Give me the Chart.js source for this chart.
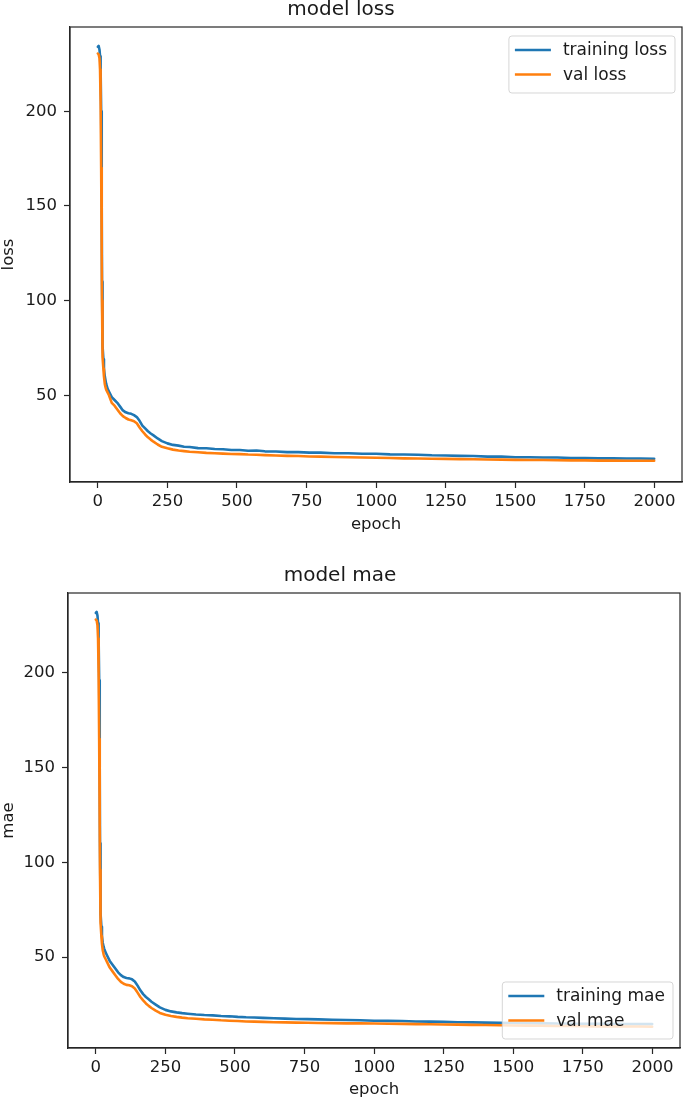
<!DOCTYPE html>
<html>
<head>
<meta charset="utf-8">
<script src="https://cdn.jsdelivr.net/npm/chart.js@4.4.1/dist/chart.umd.min.js"></script>
<style>
  html, body { margin: 0; padding: 0; background: #fff; }
  canvas { display: block; }
</style>
</head>
<body>
<canvas id="lossChart" width="685" height="551"></canvas>
<canvas id="maeChart" width="685" height="551"></canvas>
<script>
// Epochs (denser where the curve drops)
const epochs = [0, 3, 6, 8, 10, 12, 14, 15, 16, 18, 20, 22, 25, 28, 30, 35, 40,
  50, 60, 70, 80, 90, 100, 110, 120, 130, 140, 150, 160, 170, 180, 190, 200,
  215, 230, 250, 270, 290, 310, 330, 360, 390, 420, 450, 480, 510, 540, 570, 600, 640, 680, 720, 760, 800,
  850, 900, 950, 1000, 1050, 1100, 1150, 1200, 1250, 1300, 1350, 1400, 1450, 1500, 1550, 1600, 1650, 1700, 1750, 1800, 1850, 1900, 1950,
  1999];

// model loss
const trainLoss = [234, 234.5, 232.5, 229, 222, 200, 150, 110, 88, 76, 69, 64, 60, 57.5, 56, 53.5, 52,
  49, 47.5, 46, 44, 42, 41, 40.5, 40.2, 39.5, 38.5, 36.5, 34, 32.5, 31, 29.8, 28.8,
  27.2, 25.8, 24.6, 23.8, 23.4, 22.8, 22.7, 22.1, 22.0, 21.6, 21.5, 21.1, 21.1, 20.7, 20.8, 20.4, 20.3, 20.0, 20.0, 19.7, 19.7,
  19.4, 19.4, 19.1, 19.1, 18.8, 18.7, 18.6, 18.3, 18.2, 18.0, 17.9, 17.6, 17.6, 17.3, 17.3, 17.1, 17.1, 16.9, 16.9, 16.7, 16.7, 16.6, 16.6,
  16.5];
const valLoss = [230.5, 230, 228, 222, 205, 170, 125, 100, 82, 70, 64, 60, 56, 54, 53, 51.5, 50,
  46, 44.5, 42.5, 40.5, 39, 38, 37.2, 36.8, 36.3, 35.2, 33, 31, 29.3, 27.8, 26.6, 25.5,
  24, 22.8, 22, 21.3, 20.8, 20.5, 20.2, 19.9, 19.6, 19.4, 19.2, 19.0, 18.9, 18.7, 18.6, 18.4, 18.2, 18.0, 17.9, 17.7, 17.6,
  17.4, 17.3, 17.1, 17.0, 16.9, 16.7, 16.6, 16.5, 16.4, 16.3, 16.2, 16.1, 16.0, 15.9, 15.8, 15.8, 15.7, 15.6, 15.6, 15.5, 15.5, 15.4, 15.4,
  15.4];

// model mae
const trainMae = [231.5, 232, 230, 226, 218, 196, 150, 110, 86, 73, 66, 61, 57.5, 55.5, 54.5, 52.5, 51,
  48, 46, 44, 42, 40.5, 39.5, 39, 38.8, 38.3, 37.2, 35, 32.5, 30.5, 29, 27.8, 26.5,
  25, 23.5, 22.2, 21.4, 20.9, 20.5, 20.2, 19.8, 19.5, 19.3, 19.0, 18.8, 18.5, 18.3, 18.2, 18.0, 17.8, 17.6, 17.4, 17.3, 17.2,
  17.0, 16.9, 16.7, 16.5, 16.4, 16.3, 16.1, 16.0, 15.9, 15.7, 15.6, 15.5, 15.4, 15.3, 15.2, 15.1, 15.0, 14.9, 14.9, 14.8, 14.8, 14.7, 14.7,
  14.7];
const valMae = [228, 227.5, 225, 218, 200, 165, 120, 96, 80, 68, 61, 57, 53.5, 51.5, 50.5, 49, 47.5,
  44.5, 42.5, 40.5, 38.5, 37, 36, 35.4, 35.2, 34.7, 33.5, 31.3, 29, 27.2, 25.6, 24.3, 23.2,
  21.8, 20.6, 19.6, 19.0, 18.5, 18.1, 17.8, 17.5, 17.2, 17.0, 16.7, 16.5, 16.3, 16.1, 16.0, 15.9, 15.7, 15.6, 15.5, 15.4, 15.3,
  15.2, 15.1, 15.1, 15.0, 14.9, 14.8, 14.7, 14.6, 14.5, 14.4, 14.3, 14.2, 14.1, 14.0, 13.9, 13.8, 13.7, 13.7, 13.6, 13.5, 13.5, 13.4, 13.4,
  13.3];

// Tick labels
const xTicks = [0, 250, 500, 750, 1000, 1250, 1500, 1750, 2000];
const yTicks = [50, 100, 150, 200];

const FONT = 'DejaVu Sans';
const TEXT = '#1a1a1a';
const AXIS = '#262626';
const BLUE = '#1f77b4';
const ORANGE = '#ff7f0e';

// Cadre complet (haut + droite comme matplotlib)
const frame = {
  id: 'frame',
  afterDraw(chart) {
    const a = chart.chartArea, ctx = chart.ctx;
    ctx.save();
    ctx.strokeStyle = AXIS;
    ctx.lineWidth = 1.2;
    ctx.strokeRect(a.left, a.top, a.right - a.left, a.bottom - a.top);
    ctx.restore();
  }
};

// Legende style matplotlib, dans la zone du graphique
const mplLegend = {
  id: 'mplLegend',
  afterDraw(chart, args, opts) {
    const a = chart.chartArea, ctx = chart.ctx;
    const sets = chart.data.datasets;
    ctx.save();
    ctx.font = '17px "' + FONT + '"';
    const textW = Math.max(...sets.map(d => ctx.measureText(d.label).width));
    const w = 6 + 36 + 12 + textW + 8;
    const h = 57;
    const x = a.right - 7 - w;
    const y = opts.corner === 'lower' ? a.bottom - 9 - h : a.top + 9;
    ctx.beginPath();
    if (ctx.roundRect) ctx.roundRect(x, y, w, h, 3); else ctx.rect(x, y, w, h);
    ctx.fillStyle = 'rgba(255,255,255,0.8)';
    ctx.fill();
    ctx.strokeStyle = 'rgba(204,204,204,0.8)';
    ctx.lineWidth = 1;
    ctx.stroke();
    sets.forEach((d, i) => {
      const cy = y + 14 + i * 24.5;
      ctx.strokeStyle = d.borderColor;
      ctx.lineWidth = 2.5;
      ctx.beginPath();
      ctx.moveTo(x + 6, cy);
      ctx.lineTo(x + 42, cy);
      ctx.stroke();
      ctx.fillStyle = TEXT;
      ctx.textBaseline = 'middle';
      ctx.fillText(d.label, x + 54, cy + 1);
    });
    ctx.restore();
  }
};

function makeChart(id, cfg) {
  const ctx = document.getElementById(id).getContext('2d');
  return new Chart(ctx, {
    type: 'line',
    data: {
      datasets: [
        { label: cfg.labels[0], data: epochs.map((e, i) => ({ x: e, y: cfg.train[i] })),
          borderColor: BLUE, borderWidth: 2.6, pointRadius: 0, tension: 0, order: 1,
          borderJoinStyle: 'round', borderCapStyle: 'round' },
        { label: cfg.labels[1], data: epochs.map((e, i) => ({ x: e, y: cfg.val[i] })),
          borderColor: ORANGE, borderWidth: 2.6, pointRadius: 0, tension: 0, order: 0,
          borderJoinStyle: 'round', borderCapStyle: 'round' }
      ]
    },
    options: {
      responsive: false,
      animation: false,
      devicePixelRatio: 1,
      layout: { padding: { left: 0, right: cfg.padRight, top: 0, bottom: 0 } },
      plugins: {
        legend: { display: false },
        tooltip: { enabled: false },
        title: {
          display: true, text: cfg.title, color: TEXT,
          font: { family: FONT, size: 20, weight: 'normal', lineHeight: 1 },
          padding: cfg.titlePad
        },
        mplLegend: { corner: cfg.corner }
      },
      scales: {
        x: {
          type: 'linear', min: -100, max: 2099,
          afterBuildTicks: ax => { ax.ticks = xTicks.map(v => ({ value: v })); },
          afterFit: s => { s.height = cfg.xHeight; },
          ticks: { color: TEXT, font: { family: FONT, size: 16.5 }, padding: 4, maxRotation: 0, autoSkip: false,
            callback: v => String(v) },
          grid: { drawOnChartArea: false, drawTicks: true, tickLength: 6, color: AXIS, tickWidth: 1.2 },
          border: { display: true, color: AXIS, width: 1.2 },
          title: { display: true, text: 'epoch', color: TEXT,
            font: { family: FONT, size: 16.5, lineHeight: 1 }, padding: { top: 0, bottom: cfg.xTitlePad } }
        },
        y: {
          min: cfg.yMin, max: cfg.yMax,
          afterBuildTicks: ax => { ax.ticks = yTicks.map(v => ({ value: v })); },
          afterFit: s => { s.width = cfg.yWidth; },
          ticks: { color: TEXT, font: { family: FONT, size: 16.5 }, padding: 7, callback: v => String(v) },
          grid: { drawOnChartArea: false, drawTicks: true, tickLength: 6, color: AXIS, tickWidth: 1.2 },
          border: { display: true, color: AXIS, width: 1.2 },
          title: { display: true, text: cfg.yLabel, color: TEXT,
            font: { family: FONT, size: 16.5, lineHeight: 1 }, padding: { top: 0, bottom: 0 } }
        }
      }
    },
    plugins: [frame, mplLegend]
  });
}

makeChart('lossChart', {
  title: 'model loss', yLabel: 'loss', labels: ['training loss', 'val loss'],
  train: trainLoss, val: valLoss, yMin: 4.2, yMax: 244.5,
  padRight: 3, yWidth: 70, xHeight: 69, xTitlePad: 18,
  titlePad: { top: 0, bottom: 7 }, corner: 'upper'
});

makeChart('maeChart', {
  title: 'model mae', yLabel: 'mae', labels: ['training mae', 'val mae'],
  train: trainMae, val: valMae, yMin: 2.1, yMax: 242,
  padRight: 5, yWidth: 68, xHeight: 54, xTitlePad: 4,
  titlePad: { top: 14.5, bottom: 7.5 }, corner: 'lower'
});
</script>
</body>
</html>
